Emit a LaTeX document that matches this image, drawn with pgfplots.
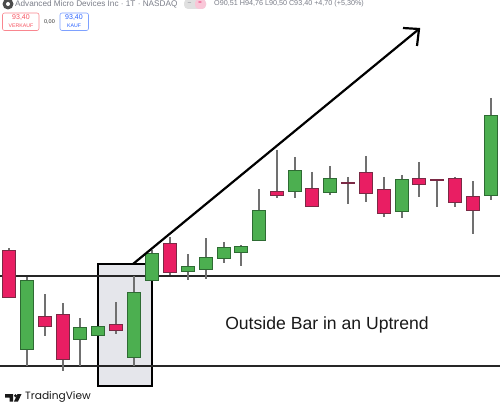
\documentclass[border=0pt]{standalone}
\usepackage{fontspec}
\setmainfont{Liberation Sans}
\newfontfamily\tvfont{Poppins}
\usepackage{pgfplots}
\pgfplotsset{compat=1.18}
\usetikzlibrary{arrows.meta}
\definecolor{upg}{HTML}{4CAF50}
\definecolor{upd}{HTML}{2E6B33}
\definecolor{dnr}{HTML}{E91E63}
\definecolor{dnd}{HTML}{7A2A45}
\definecolor{wick}{HTML}{707070}
\definecolor{boxfill}{HTML}{E5E6EB}
\definecolor{hdr}{HTML}{7A7D88}
\definecolor{sell}{HTML}{F7525F}
\definecolor{buy}{HTML}{2962FF}
% x, high, body top, body bottom, low, fill, edge (all in picture units)
\newcommand{\candle}[7]{%
  \addplot[wick,line width=1.1pt,forget plot] coordinates {(#1,#2)(#1,#5)};
  \addplot[draw=#7,line width=0.8pt,fill=#6,forget plot] coordinates {(#1-6.5,#3)(#1+6.5,#3)(#1+6.5,#4)(#1-6.5,#4)} --cycle;
}
\newcommand{\up}[5]{\candle{#1}{#2}{#3}{#4}{#5}{upg}{upd}}
\newcommand{\dn}[5]{\candle{#1}{#2}{#3}{#4}{#5}{dnr}{dnd}}
\begin{document}
\begin{tikzpicture}[x=1pt,y=1pt]
\begin{axis}[
  scale only axis,width=500pt,height=406pt,
  xmin=0,xmax=500,ymin=0,ymax=406,y dir=reverse,
  hide axis,clip=true]
% shaded outside bar box
\addplot[black,line width=1.6pt,fill=boxfill] coordinates {(98,264)(152,264)(152,386)(98,386)} --cycle;
% support / resistance lines
\addplot[black!85,line width=1.1pt] coordinates {(0,276)(500,276)};
\addplot[black!85,line width=1.1pt] coordinates {(0,366)(500,366)};
\dn{9}{248}{250}{297}{297}
\up{27}{277}{280}{349}{366}
\dn{45}{294}{316}{326}{336}
\dn{63}{303}{314}{359}{371}
\up{80}{318}{327}{339}{366}
\up{98}{326}{326}{335}{335}
\dn{116}{302}{324}{330}{334}
\up{134}{276}{292}{357}{366}
\up{152}{250}{253}{280}{280}
\dn{170}{237}{243}{272}{275}
\up{188}{254}{266}{271}{280}
\up{206}{238}{257}{269}{279}
\up{224}{242}{247}{258}{263}
\up{241}{245}{246}{252}{266}
\up{259}{189}{210}{240}{240}
\dn{277}{150}{191}{195}{198}
\up{295}{157}{170}{191}{198}
\dn{312}{172}{188}{206}{206}
\up{330}{166}{178}{192}{195}
\dn{348}{177}{182}{183}{204}
\dn{366}{156}{172}{193}{202}
\dn{384}{177}{189}{213}{217}
\up{402}{175}{179}{211}{218}
\dn{419}{162}{178}{184}{197}
\dn{437}{179}{179}{180}{207}
\dn{455}{177}{178}{202}{207}
\dn{473}{181}{196}{210}{234}
\up{491}{98}{115}{195}{200}
% trend arrow
\addplot[black,line width=2.2pt] coordinates {(133,264)(419,29)};
\addplot[black,line width=2.2pt] coordinates {(403,28)(419,29)(417,46)};
% labels
\node[anchor=center,font=\fontsize{17.6}{18}\selectfont,text=black!90] at (axis cs:327,325) {Outside Bar in an Uptrend};
\node[anchor=west,inner sep=0,font=\fontsize{8.2}{8.2}\selectfont,text=hdr] at (axis cs:15,4) {Advanced Micro Devices Inc · 1T · NASDAQ};
\fill[black!70] (axis cs:8,4) circle[radius=5.5pt];
\fill[white] (axis cs:8,4) circle[radius=2pt];
\fill[black!12,rounded corners=4pt] (axis cs:184,-1) rectangle (axis cs:206,9);
\fill[dnr!25,rounded corners=4pt] (axis cs:195,-1) rectangle (axis cs:206,9);
\node[inner sep=0,font=\fontsize{6}{6}\selectfont,text=dnr] at (axis cs:200,3.5) {≈};
\node[inner sep=0,font=\fontsize{6}{6}\selectfont,text=hdr] at (axis cs:189.5,3.5) {–};
\node[anchor=west,inner sep=0,font=\fontsize{7.2}{7.2}\selectfont,text=hdr] at (axis cs:214,4) {O90,51 H94,76 L90,50 C93,40 +4,70 (+5,30\%)};
\draw[sell!70,rounded corners=2pt,line width=0.6pt,fill=white] (axis cs:2.5,13) rectangle (axis cs:39,30.5);
\node[font=\fontsize{7}{7}\selectfont,text=sell,inner sep=0] at (axis cs:21,18) {93,40};
\node[font=\fontsize{5.2}{5.2}\selectfont,text=sell,inner sep=0] at (axis cs:21,26) {VERKAUF};
\node[font=\fontsize{5.5}{5.5}\selectfont,text=black!80,inner sep=0] at (axis cs:49.5,22) {0,00};
\draw[buy!60,rounded corners=2pt,line width=0.6pt,fill=white] (axis cs:60,13) rectangle (axis cs:88.5,30.5);
\node[font=\fontsize{7}{7}\selectfont,text=buy,inner sep=0] at (axis cs:74,18) {93,40};
\node[font=\fontsize{5.2}{5.2}\selectfont,text=buy,inner sep=0] at (axis cs:74,26) {KAUF};
\node[anchor=west,inner sep=0,font=\tvfont\fontsize{10.6}{11}\selectfont,text=black!90] at (axis cs:25,396.5) {TradingView};
\fill[black!90] (axis cs:5,394) -- (axis cs:13,394) -- (axis cs:13,401.5) -- (axis cs:9.5,401.5) -- (axis cs:9.5,397.5) -- (axis cs:5,397.5) -- cycle;
\fill[black!90] (axis cs:15.5,395.7) circle[radius=1.6pt];
\fill[black!90] (axis cs:14,401.5) -- (axis cs:17.5,394) -- (axis cs:21.5,394) -- (axis cs:18,401.5) -- cycle;
\end{axis}
\end{tikzpicture}
\end{document}
